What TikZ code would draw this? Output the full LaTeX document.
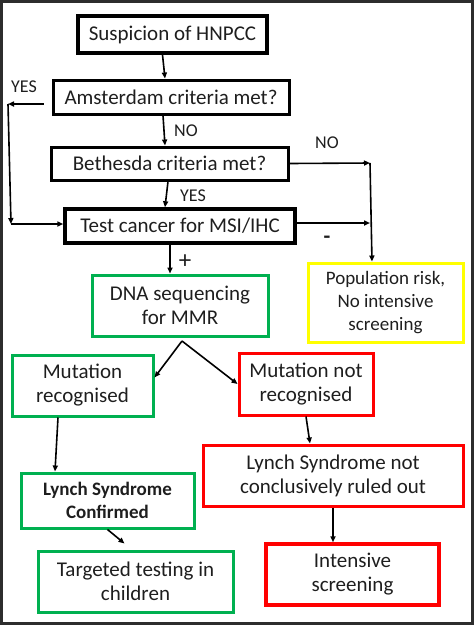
\documentclass[tikz,border=0pt]{standalone}
\usepackage{fontspec}
\setmainfont{Carlito}
\usetikzlibrary{arrows.meta}
\definecolor{vert}{RGB}{0,176,80}
\definecolor{rouge}{RGB}{255,0,0}
\definecolor{jaune}{RGB}{255,255,0}
\definecolor{cadre}{RGB}{45,45,45}
\definecolor{texte}{RGB}{30,30,30}
\tikzset{
    boite/.style={draw, line width=3pt, align=center, inner sep=0pt, text=texte,
      font=\fontsize{21}{24}\selectfont},
    fl/.style={-{Triangle[length=6pt,width=5pt]}, line width=1.6pt},
    lab/.style={text=texte, font=\fontsize{18}{20}\selectfont},
  }

\begin{document}
\begin{tikzpicture}[x=1pt,y=-1pt]
	%cadre
	\draw[cadre, line width=3pt] (1.5,1.5) rectangle (472.5,623.5);
	\useasboundingbox (0,0) rectangle (474,625);
	%boites
	\node[boite, line width=3.5pt, minimum width=189pt, minimum height=37pt](susp) at (172.5,34.5){Suspicion of HNPCC};
	\node[boite, minimum width=236pt, minimum height=34pt](amst) at (171,97){Amsterdam criteria met?};
	\node[boite, minimum width=237pt, minimum height=33pt](beth) at (169.5,163.5){Bethesda criteria met?};
	\node[boite, line width=3.5pt, minimum width=230pt, minimum height=34pt](test) at (180,226){Test cancer for MSI/IHC};
	\node[boite, draw=vert, minimum width=176pt, minimum height=61pt](dna) at (180,305.5){DNA sequencing\\for MMR};
	\node[boite, draw=jaune, minimum width=155pt, minimum height=79pt, font=\fontsize{19}{23}\selectfont](pop) at (385.5,302.5){Population risk,\\No intensive\\screening};
	\node[boite, draw=vert, minimum width=141pt, minimum height=61pt](mrec) at (82.5,385.5){Mutation\\recognised};
	\node[boite, draw=rouge, minimum width=134pt, minimum height=62pt](mnot) at (306,384){Mutation not\\recognised};
	\node[boite, draw=rouge, minimum width=260pt, minimum height=61pt](lnot) at (333,475.5){Lynch Syndrome not\\conclusively ruled out};
	\node[boite, draw=vert, minimum width=173pt, minimum height=55pt, font=\fontsize{19}{23}\selectfont\bfseries](lconf) at (107.5,500.5){Lynch Syndrome\\Confirmed};
	\node[boite, draw=vert, minimum width=195pt, minimum height=61pt](targ) at (135.5,581.5){Targeted testing in\\children};
	\node[boite, draw=rouge, line width=3.5pt, minimum width=173pt, minimum height=61pt](inten) at (352.5,574.5){Intensive\\screening};
	%points de passage
	\coordinate(ya) at (8,104);
	\coordinate(yb) at (11,224);
	\coordinate(na) at (370,163);
	\coordinate(nb) at (370,223);
	\coordinate(fork) at (182,341);
	%fleches
	\draw[fl] ([xshift=-10pt]susp.south) -- ([xshift=-6pt]amst.north);
	\draw[fl] ([xshift=-8pt]amst.south) -- ([xshift=-4.5pt]beth.north);
	\draw[fl] ([xshift=-1.5pt]beth.south) -- ([xshift=-15pt]test.north);
	\draw[fl] ([xshift=-10pt]test.south) -- ([xshift=-10pt]dna.north);
	\draw[fl] ([shift={(-8pt,-7pt)}]amst.west) -- (ya);
	\draw[fl] (ya) -- (yb);
	\draw[fl] (yb) -- ([yshift=2pt]test.west);
	\draw[fl] (beth.east) -- (na);
	\draw[fl] ([yshift=3pt]test.east) -- (nb);
	\draw[fl] (na) -- ([xshift=-13.5pt]pop.north);
	\draw[fl] (fork) -- ([yshift=8pt]mrec.east);
	\draw[fl] (fork) -- (mnot.west);
	\draw[fl] ([xshift=-24.5pt]mrec.south) -- ([xshift=-52.5pt]lconf.north);
	\draw[fl] (lconf.south) -- ([shift={(-11pt,6pt)}]targ.north);
	\draw[fl] (mnot.south) -- ([xshift=-23pt]lnot.north);
	\draw[fl] (lnot.south) -- ([xshift=-19.5pt]inten.north);
	%etiquettes
	\node[lab](oui1) at (24,87){YES};
	\node[lab](non1) at (186,131){NO};
	\node[lab](non2) at (327,143){NO};
	\node[lab](oui2) at (193,196){YES};
	\node[lab, font=\fontsize{22}{24}\selectfont\bfseries](moins) at (327,240){-};
	\node[lab, font=\fontsize{25}{26}\selectfont](plus) at (185,262){+};
\end{tikzpicture}
\end{document}
